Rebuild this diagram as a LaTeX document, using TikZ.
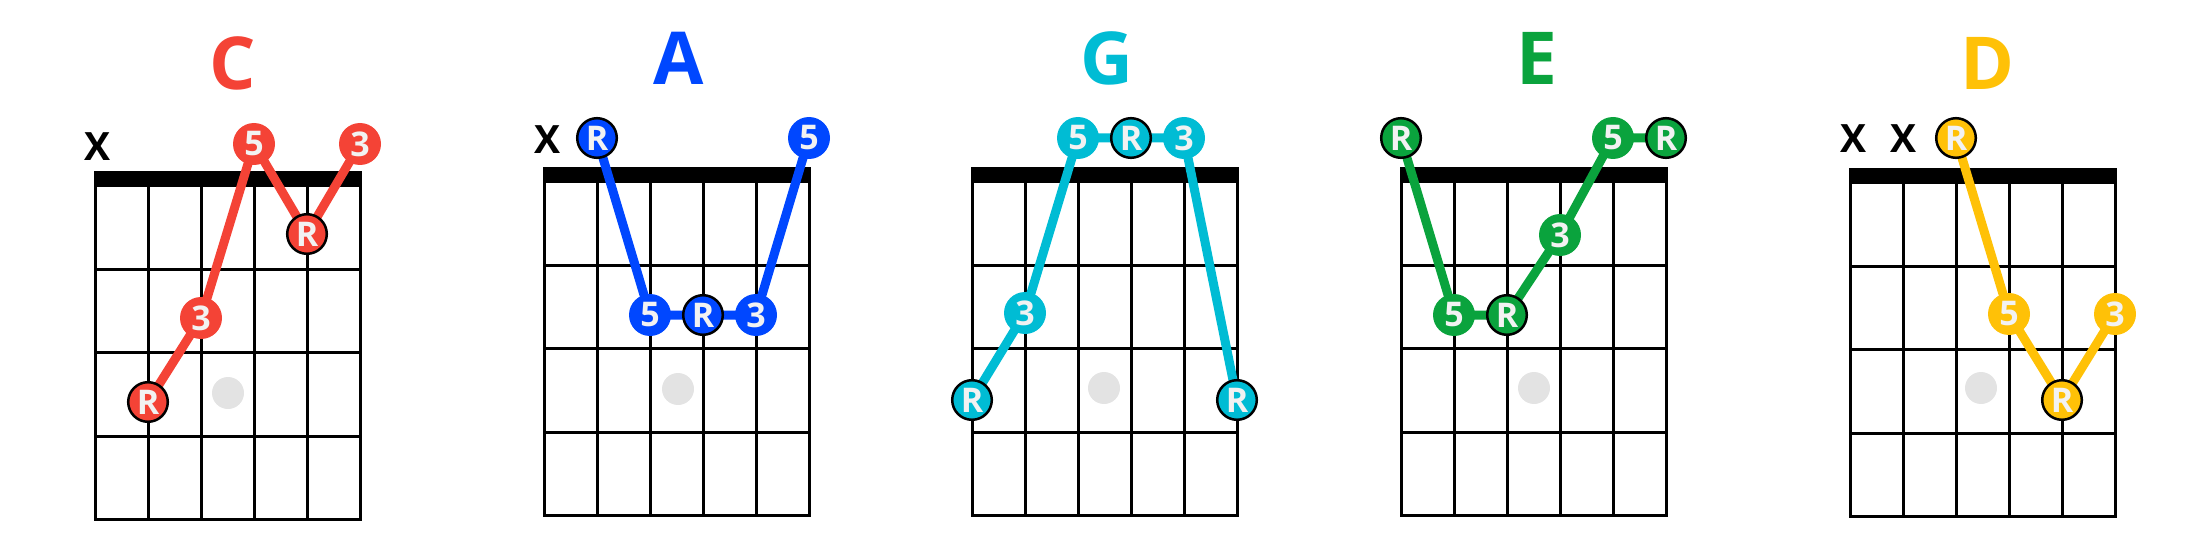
\documentclass[tikz,border=0pt]{standalone}
\usepackage{fontspec}
\setmainfont{Open Sans}
\definecolor{cC}{HTML}{F44336}
\definecolor{cA}{HTML}{0047FF}
\definecolor{cG}{HTML}{00BCD4}
\definecolor{cE}{HTML}{0AA33D}
\definecolor{cD}{HTML}{FFC107}
\definecolor{dotgray}{HTML}{E3E3E3}
\definecolor{numwhite}{HTML}{F2F2F2}
\pgfdeclarelayer{gridlayer}
\pgfdeclarelayer{linklayer}
\pgfsetlayers{gridlayer,linklayer,main}
\newcommand\fretgrid[2]{%
  \begin{pgfonlayer}{gridlayer}
  \fill[black] (#1-1.5,#2) rectangle (#1+266.5,#2+16);
  \foreach \i in {0,...,5} \draw[gridline] (#1+53*\i,#2+15) -- (#1+53*\i,#2+348.3);
  \foreach \j in {98.3,181.3,265.3,348.3} \draw[gridline] (#1,#2+\j) -- (#1+265,#2+\j);
  \end{pgfonlayer}
}
\tikzset{
  gridline/.style={line width=1.5pt, line cap=rect, black},
  note/.style={circle, inner sep=0pt, minimum size=21pt, text=numwhite,
    font=\bfseries\fontsize{17}{17}\selectfont},
  root/.style={note, draw=black, line width=1.25pt, minimum size=19.8pt},
  link/.style={line width=4.5pt},
  chordname/.style={anchor=base, font=\bfseries\fontsize{36.5}{36.5}\selectfont},
  mute/.style={font=\bfseries\fontsize{19.5}{19.5}\selectfont, text=black},
  inlay/.style={circle, fill=dotgray, inner sep=0pt, minimum size=16pt},
}
\begin{document}
\begin{tikzpicture}[x=0.5pt, y=-0.5pt]
\useasboundingbox (0,0) rectangle (2212,556);
% ---------- C ----------
\fretgrid{95}{170.7}
\node[chordname, text=cC] (tC) at (233,89.5) {C};
\node[mute] (xC) at (98,147) {X};
\node[inlay] (dotC) at (228,393) {};
\node[root, fill=cC] (cR1) at (148,402) {R};
\node[note, fill=cC] (c31) at (201,318) {3};
\node[note, fill=cC] (c51) at (254,144) {5};
\node[root, fill=cC] (cR2) at (307,234) {R};
\node[note, fill=cC] (c32) at (360,144) {3};
\begin{pgfonlayer}{linklayer}
\draw[link, cC] (cR1.center) -- (c31.center) -- (c51.center) -- (cR2.center) -- (c32.center);
\end{pgfonlayer}
% ---------- A ----------
\fretgrid{544}{166.7}
\node[chordname, text=cA] (tA) at (679,85) {A};
\node[mute] (xA) at (547,140) {X};
\node[inlay] (dotA) at (678,389) {};
\node[root, fill=cA] (aR1) at (597,138) {R};
\node[note, fill=cA] (a51) at (650,315) {5};
\node[root, fill=cA] (aR2) at (703,315) {R};
\node[note, fill=cA] (a3) at (756,315) {3};
\node[note, fill=cA] (a52) at (809,138) {5};
\begin{pgfonlayer}{linklayer}
\draw[link, cA] (aR1.center) -- (a51.center) -- (aR2.center) -- (a3.center) -- (a52.center);
\end{pgfonlayer}
% ---------- G ----------
\fretgrid{972}{166.7}
\node[chordname, text=cG] (tG) at (1107,85) {G};
\node[inlay] (dotG) at (1104,388) {};
\node[root, fill=cG] (gR1) at (972,400) {R};
\node[note, fill=cG] (g31) at (1025,313) {3};
\node[note, fill=cG] (g5) at (1078,138) {5};
\node[root, fill=cG] (gR2) at (1131,138) {R};
\node[note, fill=cG] (g32) at (1184,138) {3};
\node[root, fill=cG] (gR3) at (1237,400) {R};
\begin{pgfonlayer}{linklayer}
\draw[link, cG] (gR1.center) -- (g31.center) -- (g5.center) -- (gR2.center) -- (g32.center) -- (gR3.center);
\end{pgfonlayer}
% ---------- E ----------
\fretgrid{1401}{166.7}
\node[chordname, text=cE] (tE) at (1537,85) {E};
\node[inlay] (dotE) at (1534,388) {};
\node[root, fill=cE] (eR1) at (1401,138) {R};
\node[note, fill=cE] (e51) at (1454,315) {5};
\node[root, fill=cE] (eR2) at (1507,315) {R};
\node[note, fill=cE] (e3) at (1560,235) {3};
\node[note, fill=cE] (e52) at (1613,138) {5};
\node[root, fill=cE] (eR3) at (1666,138) {R};
\begin{pgfonlayer}{linklayer}
\draw[link, cE] (eR1.center) -- (e51.center) -- (eR2.center) -- (e3.center) -- (e52.center) -- (eR3.center);
\end{pgfonlayer}
% ---------- D ----------
\fretgrid{1850}{167.7}
\node[chordname, text=cD] (tD) at (1987,89.5) {D};
\node[mute] (xD1) at (1853,139) {X};
\node[mute] (xD2) at (1903,139) {X};
\node[inlay] (dotD) at (1981,388) {};
\node[root, fill=cD] (dR1) at (1956,138) {R};
\node[note, fill=cD] (d5) at (2009,314) {5};
\node[root, fill=cD] (dR2) at (2062,400) {R};
\node[note, fill=cD] (d3) at (2115,314) {3};
\begin{pgfonlayer}{linklayer}
\draw[link, cD] (dR1.center) -- (d5.center) -- (dR2.center) -- (d3.center);
\end{pgfonlayer}
\end{tikzpicture}
\end{document}
